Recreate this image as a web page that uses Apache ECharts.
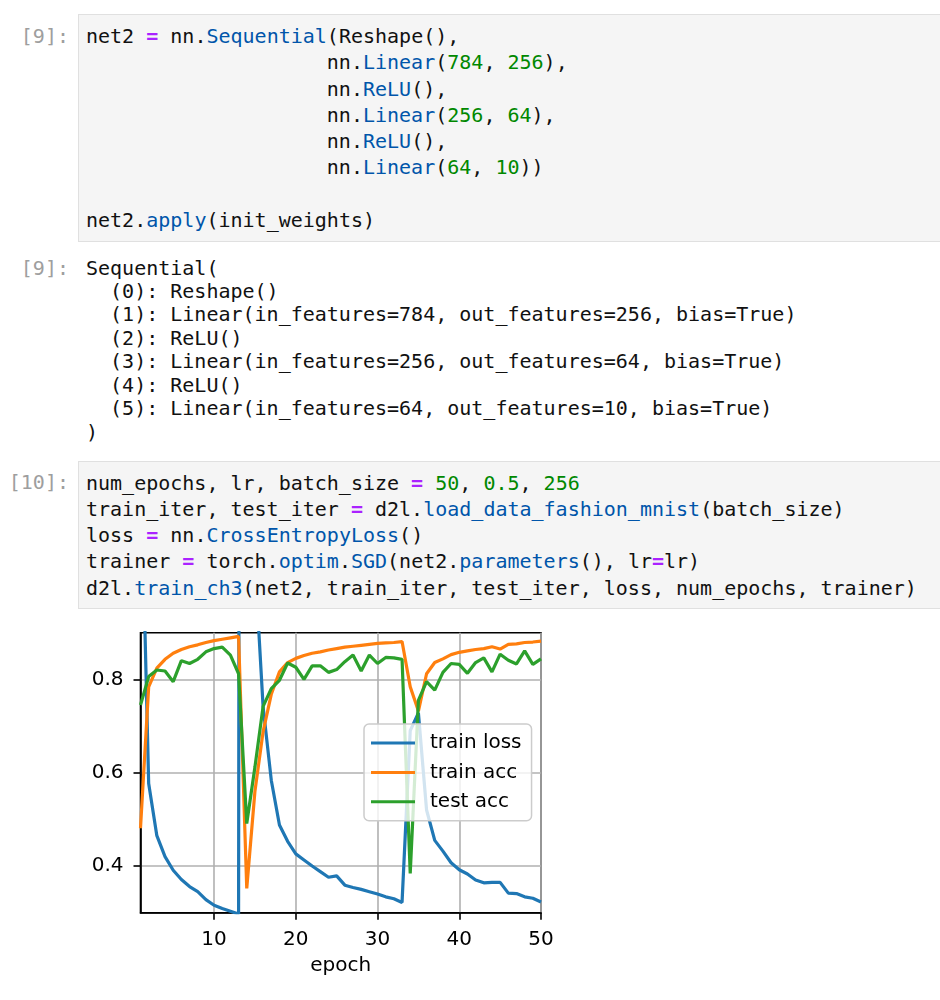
<!DOCTYPE html>
<html>
<head>
<meta charset="utf-8">
<script src="https://cdn.jsdelivr.net/npm/echarts@6/dist/echarts.min.js"></script>
<style>
  html, body { margin: 0; padding: 0; background: #fff; }
  body { width: 940px; height: 1000px; position: relative; overflow: hidden;
         font-family: "DejaVu Sans Mono", monospace; font-size: 20px; color: #111; }
  .prompt { position: absolute; left: 0; width: 69px; text-align: right; color: #9e9e9e;
            white-space: pre; font-size: 20px; }
  .incell { position: absolute; left: 78px; width: 900px; background: #f5f5f5;
            border: 1px solid #e0e0e0; box-sizing: border-box; margin: 0;
            padding-left: 7px; white-space: pre; font-family: "DejaVu Sans Mono", monospace;
            font-size: 20px; line-height: 26.3px; }
  .outcell { position: absolute; left: 86px; margin: 0; white-space: pre;
             font-family: "DejaVu Sans Mono", monospace; font-size: 20px; line-height: 23.45px; }
  .o { color: #aa22ff; font-weight: bold; }
  .p { color: #0055aa; }
  .n { color: #008800; }
  #chart { position: absolute; left: 0; top: 612px; width: 600px; height: 388px; }
</style>
</head>
<body>
<div class="prompt" style="top:23px;line-height:26.3px;">[9]:</div>
<pre class="incell" style="top:14px;padding-top:8px;padding-bottom:8px;">net2 <span class="o">=</span> nn.<span class="p">Sequential</span>(Reshape(),
                    nn.<span class="p">Linear</span>(<span class="n">784</span>, <span class="n">256</span>),
                    nn.<span class="p">ReLU</span>(),
                    nn.<span class="p">Linear</span>(<span class="n">256</span>, <span class="n">64</span>),
                    nn.<span class="p">ReLU</span>(),
                    nn.<span class="p">Linear</span>(<span class="n">64</span>, <span class="n">10</span>))

net2.<span class="p">apply</span>(init_weights)</pre>

<div class="prompt" style="top:256.5px;line-height:23.45px;">[9]:</div>
<pre class="outcell" style="top:256.5px;">Sequential(
  (0): Reshape()
  (1): Linear(in_features=784, out_features=256, bias=True)
  (2): ReLU()
  (3): Linear(in_features=256, out_features=64, bias=True)
  (4): ReLU()
  (5): Linear(in_features=64, out_features=10, bias=True)
)</pre>

<div class="prompt" style="top:468.5px;line-height:26.3px;">[10]:</div>
<pre class="incell" style="top:461px;padding-top:7.5px;padding-bottom:7.5px;">num_epochs, lr, batch_size <span class="o">=</span> <span class="n">50</span>, <span class="n">0.5</span>, <span class="n">256</span>
train_iter, test_iter <span class="o">=</span> d2l.<span class="p">load_data_fashion_mnist</span>(batch_size)
loss <span class="o">=</span> nn.<span class="p">CrossEntropyLoss</span>()
trainer <span class="o">=</span> torch.<span class="p">optim</span>.<span class="p">SGD</span>(net2.<span class="p">parameters</span>(), lr<span class="o">=</span>lr)
d2l.<span class="p">train_ch3</span>(net2, train_iter, test_iter, loss, num_epochs, trainer)</pre>

<div id="chart"></div>

<script>
// ---- data ----
const epochs = [1,2,3,4,5,6,7,8,9,10,11,12,13,14,15,16,17,18,19,20,21,22,23,24,25,
                26,27,28,29,30,31,32,33,34,35,36,37,38,39,40,41,42,43,44,45,46,47,48,49,50];
const trainLoss = [1.30,0.577,0.465,0.420,0.391,0.371,0.356,0.345,0.328,0.316,0.309,0.303,0.297,15.0,1.05,
                   0.741,0.584,0.488,0.453,0.426,0.413,0.400,0.388,0.376,0.379,0.359,0.354,0.350,0.345,0.340,
                   0.334,0.330,0.322,0.690,0.728,0.520,0.455,0.432,0.407,0.392,0.383,0.370,0.364,0.365,0.365,
                   0.342,0.341,0.334,0.331,0.323];
const trainAcc = [0.481,0.784,0.824,0.843,0.856,0.864,0.870,0.874,0.879,0.883,0.886,0.889,0.892,0.352,0.560,
                  0.688,0.768,0.816,0.836,0.845,0.851,0.856,0.859,0.863,0.866,0.869,0.871,0.873,0.875,0.877,
                  0.878,0.879,0.881,0.784,0.732,0.812,0.836,0.844,0.853,0.858,0.861,0.864,0.866,0.870,0.865,
                  0.875,0.876,0.879,0.880,0.882];
const testAcc = [0.745,0.806,0.820,0.818,0.795,0.840,0.834,0.843,0.859,0.866,0.869,0.852,0.812,0.491,0.612,
                 0.742,0.780,0.798,0.835,0.826,0.800,0.829,0.829,0.815,0.821,0.838,0.852,0.818,0.852,0.834,
                 0.847,0.846,0.843,0.384,0.755,0.795,0.777,0.815,0.834,0.832,0.813,0.836,0.846,0.816,0.854,
                 0.841,0.833,0.861,0.832,0.844];
const seriesNames = ['train loss', 'train acc', 'test acc'];
const xTicks = [10, 20, 30, 40, 50];
const yTicks = [0.4, 0.6, 0.8];

const pair = arr => epochs.map((e, i) => [e, arr[i]]);
const colors = ['#1f77b4', '#ff7f0e', '#2ca02c'];
const font = '"DejaVu Sans", sans-serif';

const chart = echarts.init(document.getElementById('chart'), null, { renderer: 'canvas' });
chart.setOption({
  animation: false,
  grid: { left: 140.5, top: 20.7, width: 400.5, height: 280, show: true,
          borderColor: '#000', borderWidth: 1.6, backgroundColor: 'transparent' },
  xAxis: {
    type: 'value', min: 1, max: 50,
    name: 'epoch', nameLocation: 'middle', nameGap: 43,
    nameTextStyle: { fontSize: 20, fontFamily: font, color: '#000' },
    axisLine: { show: true, lineStyle: { color: '#000', width: 1.6 } },
    axisTick: { show: true, inside: false, length: 7, customValues: xTicks,
                lineStyle: { color: '#000', width: 1.6 } },
    axisLabel: { customValues: xTicks, margin: 17, fontSize: 20, fontFamily: font, color: '#000' },
    splitLine: { show: true, lineStyle: { color: '#b0b0b0', width: 1.6 } }
  },
  yAxis: {
    type: 'value', min: 0.3, max: 0.9,
    axisLine: { show: true, lineStyle: { color: '#000', width: 1.6 } },
    axisTick: { show: true, inside: false, length: 7, customValues: yTicks,
                lineStyle: { color: '#000', width: 1.6 } },
    axisLabel: { customValues: yTicks, margin: 17, fontSize: 20, fontFamily: font, color: '#000',
                 formatter: v => v.toFixed(1) },
    splitLine: { show: true, lineStyle: { color: '#b0b0b0', width: 1.6 } }
  },
  legend: {
    data: seriesNames.map(n => ({ name: n, icon: 'rect' })),
    orient: 'vertical', left: 364, top: 112,
    itemWidth: 44, itemHeight: 3, itemGap: 9.4,
    padding: [9, 10, 9, 7],
    backgroundColor: 'rgba(255,255,255,0.8)', borderColor: '#cccccc', borderWidth: 1.5, borderRadius: 5,
    textStyle: { fontSize: 20, fontFamily: font, color: '#000', padding: [0, 0, 0, 10] }
  },
  series: [trainLoss, trainAcc, testAcc].map((arr, i) => ({
    name: seriesNames[i], type: 'line', data: pair(arr), symbol: 'none', clip: true,
    lineStyle: { color: colors[i], width: 3.2 }, itemStyle: { color: colors[i] }
  }))
});
</script>
</body>
</html>
